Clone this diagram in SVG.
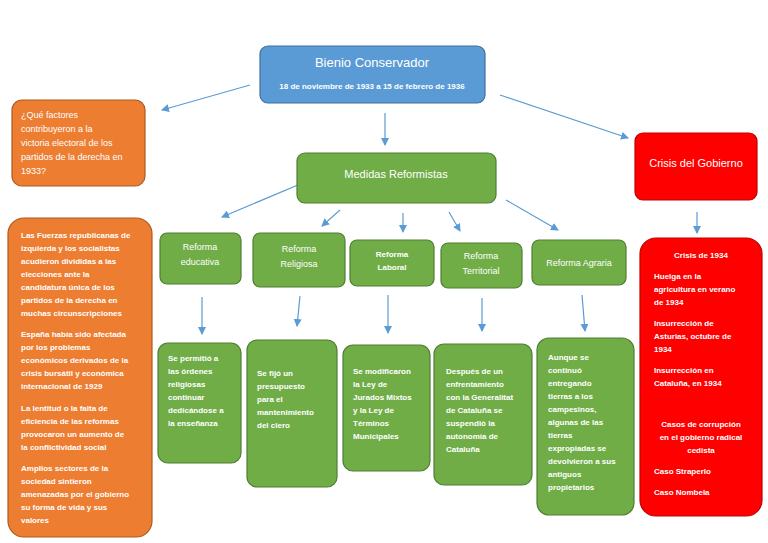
<svg xmlns="http://www.w3.org/2000/svg" width="768" height="543" viewBox="0 0 768 543">
<style>
text{font-family:"Liberation Sans",Arial,sans-serif;fill:#fff}
.s{font-size:8px;font-weight:bold}
.m{font-size:9px}
.g{fill:#70AD47;stroke:#507E32;stroke-width:1.2}
.o{fill:#ED7D31;stroke:#AE5A21;stroke-width:1.2}
.r{fill:#FF0000;stroke:#C00000;stroke-width:1.2}
.c line{stroke:#5B9BD5;stroke-width:1.2;marker-end:url(#a)}
</style>
<defs><marker id="a" markerWidth="8" markerHeight="8" refX="7" refY="4" orient="auto" markerUnits="userSpaceOnUse"><path d="M0,0L8,4L0,8z" fill="#5B9BD5"/></marker></defs>
<rect width="768" height="543" fill="#fff"/>
<g class="c">
<line x1="250" y1="85" x2="162" y2="110"/>
<line x1="385" y1="113" x2="385" y2="145"/>
<line x1="500" y1="95" x2="628" y2="138"/>
<line x1="305" y1="182" x2="222" y2="217"/>
<line x1="340" y1="210" x2="322" y2="226"/>
<line x1="403" y1="213" x2="403" y2="232"/>
<line x1="449" y1="212" x2="460" y2="231"/>
<line x1="506" y1="200" x2="558" y2="230"/>
<line x1="202" y1="297" x2="202" y2="334"/>
<line x1="300" y1="296" x2="297" y2="326"/>
<line x1="388" y1="295" x2="388" y2="333"/>
<line x1="482" y1="298" x2="482" y2="331"/>
<line x1="582" y1="295" x2="585" y2="331"/>
<line x1="697" y1="212" x2="697" y2="233"/>
</g>
<g id="titulo"><rect x="260" y="46" width="225" height="57" rx="8" fill="#5B9BD5" stroke="#41719C" stroke-width="1.2"/>
<text x="372" y="67" font-size="13" text-anchor="middle">Bienio Conservador</text>
<text x="372" y="89" class="s" text-anchor="middle">18 de noviembre de 1933 a 15 de febrero de 1936</text></g>
<g id="pregunta"><rect x="12" y="100" width="133" height="86" rx="10" class="o"/>
<text class="m"><tspan x="21" y="118">¿Qué                  factores</tspan><tspan x="21" y="132">contribuyeron       a       la</tspan><tspan x="21" y="146">victoria electoral de los</tspan><tspan x="21" y="160">partidos de la derecha en</tspan><tspan x="21" y="174">1933?</tspan></text></g>
<g id="causas"><rect x="8" y="218" width="144" height="319" rx="16" class="o"/>
<text class="s"><tspan x="21" y="238">Las Fuerzas republicanas de</tspan><tspan x="21" y="251">izquierda y los socialistas</tspan><tspan x="21" y="264">acudieron divididas a las</tspan><tspan x="21" y="277">elecciones          ante          la</tspan><tspan x="21" y="290">candidatura única de los</tspan><tspan x="21" y="303">partidos de la derecha en</tspan><tspan x="21" y="316">muchas circunscripciones</tspan>
<tspan x="21" y="337">España había sido afectada</tspan><tspan x="21" y="350">por         los         problemas</tspan><tspan x="21" y="363">económicos derivados de la</tspan><tspan x="21" y="376">crisis bursátil y económica</tspan><tspan x="21" y="389">internacional de 1929</tspan>
<tspan x="21" y="411">La lentitud o la falta de</tspan><tspan x="21" y="424">eficiencia de las reformas</tspan><tspan x="21" y="437">provocaron un aumento de</tspan><tspan x="21" y="450">la conflictividad social</tspan>
<tspan x="21" y="471">Amplios sectores de la</tspan><tspan x="21" y="484">sociedad                 sintieron</tspan><tspan x="21" y="497">amenazadas por el gobierno</tspan><tspan x="21" y="510">su forma de vida  y  sus</tspan><tspan x="21" y="523">valores</tspan></text></g>
<g id="medidas"><rect x="297" y="153" width="199" height="50" rx="8" class="g"/><text x="396" y="178" font-size="11" text-anchor="middle">Medidas Reformistas</text></g>
<g id="crisis"><rect x="635" y="133" width="122" height="67" rx="8" class="r"/><text x="696" y="167" font-size="11" text-anchor="middle">Crisis del Gobierno</text></g>
<g id="r1"><rect x="160" y="233" width="81" height="51" rx="7" class="g"/><text class="m" text-anchor="middle"><tspan x="200" y="250">Reforma</tspan><tspan x="200" y="265">educativa</tspan></text></g>
<g id="r2"><rect x="253" y="233" width="92" height="54" rx="7" class="g"/><text class="m" text-anchor="middle"><tspan x="299" y="252">Reforma</tspan><tspan x="299" y="267">Religiosa</tspan></text></g>
<g id="r3"><rect x="350" y="240" width="84" height="46" rx="7" class="g"/><text class="s" text-anchor="middle"><tspan x="392" y="257">Reforma</tspan><tspan x="392" y="270">Laboral</tspan></text></g>
<g id="r4"><rect x="441" y="243" width="81" height="45" rx="7" class="g"/><text class="m" text-anchor="middle"><tspan x="481" y="259">Reforma</tspan><tspan x="481" y="274">Territorial</tspan></text></g>
<g id="r5"><rect x="532" y="240" width="94" height="45" rx="7" class="g"/><text x="579" y="266" class="m" text-anchor="middle">Reforma Agraria</text></g>
<g id="d1"><rect x="158" y="343" width="83" height="120" rx="10" class="g"/><text class="s"><tspan x="168" y="361">Se permitió a</tspan><tspan x="168" y="374">las    órdenes</tspan><tspan x="168" y="387">religiosas</tspan><tspan x="168" y="400">continuar</tspan><tspan x="168" y="413">dedicándose a</tspan><tspan x="168" y="426">la enseñanza</tspan></text></g>
<g id="d2"><rect x="247" y="340" width="90" height="147" rx="10" class="g"/><text class="s"><tspan x="257" y="376">Se     fijó     un</tspan><tspan x="257" y="389">presupuesto</tspan><tspan x="257" y="402">para              el</tspan><tspan x="257" y="415">mantenimiento</tspan><tspan x="257" y="428">del clero</tspan></text></g>
<g id="d3"><rect x="343" y="345" width="87" height="126" rx="10" class="g"/><text class="s"><tspan x="353" y="374">Se modificaron</tspan><tspan x="353" y="387">la    Ley    de</tspan><tspan x="353" y="400">Jurados Mixtos</tspan><tspan x="353" y="413">y  la  Ley  de</tspan><tspan x="353" y="426">Términos</tspan><tspan x="353" y="439">Municipales</tspan></text></g>
<g id="d4"><rect x="434" y="344" width="98" height="141" rx="10" class="g"/><text class="s"><tspan x="446" y="374">Después  de  un</tspan><tspan x="446" y="387">enfrentamiento</tspan><tspan x="446" y="400">con la Generalitat</tspan><tspan x="446" y="413">de  Cataluña  se</tspan><tspan x="446" y="426">suspendió         la</tspan><tspan x="446" y="439">autonomía       de</tspan><tspan x="446" y="452">Cataluña</tspan></text></g>
<g id="d5"><rect x="537" y="338" width="97" height="177" rx="12" class="g"/><text class="s"><tspan x="548" y="360">Aunque             se</tspan><tspan x="548" y="373">continuó</tspan><tspan x="548" y="386">entregando</tspan><tspan x="548" y="399">tierras    a     los</tspan><tspan x="548" y="412">campesinos,</tspan><tspan x="548" y="425">algunas   de   las</tspan><tspan x="548" y="438">tierras</tspan><tspan x="548" y="451">expropiadas     se</tspan><tspan x="548" y="464">devolvieron a sus</tspan><tspan x="548" y="477">antiguos</tspan><tspan x="548" y="490">propietarios</tspan></text></g>
<g id="d6"><rect x="640" y="238" width="122" height="278" rx="16" class="r"/><text class="s"><tspan x="701" y="258" text-anchor="middle">Crisis de 1934</tspan><tspan x="654" y="279">Huelga       en       la</tspan><tspan x="654" y="292">agricultura en verano</tspan><tspan x="654" y="305">de 1934</tspan><tspan x="654" y="326">Insurrección          de</tspan><tspan x="654" y="339">Asturias, octubre de</tspan><tspan x="654" y="352">1934</tspan><tspan x="654" y="373">Insurrección          en</tspan><tspan x="654" y="386">Cataluña, en 1934</tspan><tspan x="701" y="427" text-anchor="middle">Casos de corrupción</tspan><tspan x="701" y="440" text-anchor="middle">en el gobierno radical</tspan><tspan x="701" y="453" text-anchor="middle">cedista</tspan><tspan x="654" y="474">Caso Straperlo</tspan><tspan x="654" y="495">Caso Nombela</tspan></text></g>
</svg>
